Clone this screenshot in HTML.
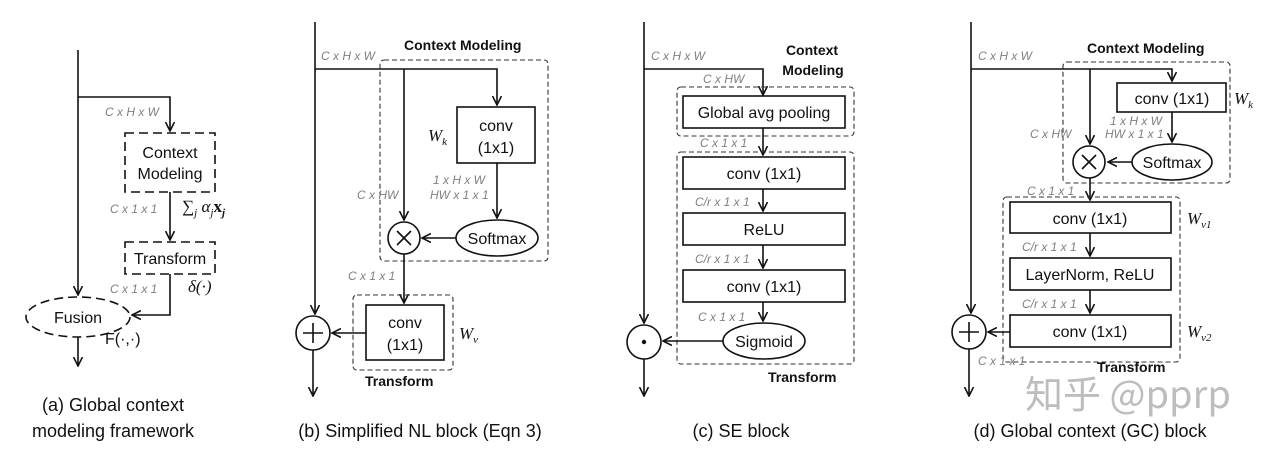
<!DOCTYPE html>
<html><head><meta charset="utf-8"><style>
html,body{margin:0;padding:0;background:#fff;}
svg{display:block;}
text{font-family:"Liberation Sans","Noto Sans CJK SC",sans-serif;}
.g{fill:#808080;font-size:12px;font-style:italic;}
.b{font-weight:bold;font-size:14px;fill:#111;}
.t{font-size:16px;fill:#111;}
.c{font-size:18px;fill:#111;}
.m{font-family:"Liberation Serif",serif;font-style:italic;font-size:17px;fill:#111;}
.l{stroke:#111;stroke-width:1.6;fill:none;}
.d{stroke:#333;stroke-width:1.1;fill:none;stroke-dasharray:5,3;}
.dd{stroke:#111;stroke-width:1.6;fill:none;stroke-dasharray:9,5;}
</style></head><body>
<svg width="1266" height="454" viewBox="0 0 1266 454" xmlns="http://www.w3.org/2000/svg">
<defs><marker id="a" markerWidth="10" markerHeight="10" refX="9" refY="5" orient="auto" markerUnits="userSpaceOnUse"><path d="M0,0.5 L9,5 L0,9.5" fill="none" stroke="#111" stroke-width="1.6"/></marker></defs>

<!-- (a) -->
<path class="l" d="M78,50 V295" marker-end="url(#a)"/>
<path class="l" d="M78,97 H170 V131" marker-end="url(#a)"/>
<rect class="dd" x="125" y="133" width="90" height="59"/>
<text class="t" x="170" y="158" text-anchor="middle">Context</text>
<text class="t" x="170" y="179" text-anchor="middle">Modeling</text>
<text class="g" x="105" y="116">C x H x W</text>
<text class="g" x="110" y="213">C x 1 x 1</text>
<text class="m" x="182" y="212">∑<tspan font-size="11" dy="4">j</tspan><tspan dy="-4"> α</tspan><tspan font-size="11" dy="4">j</tspan><tspan dy="-4" font-weight="bold" font-style="normal">x</tspan><tspan font-size="11" dy="4" font-weight="bold">j</tspan></text>
<path class="l" d="M170,192 V240" marker-end="url(#a)"/>
<rect class="dd" x="125" y="242" width="90" height="32"/>
<text class="t" x="170" y="264" text-anchor="middle">Transform</text>
<text class="g" x="110" y="293">C x 1 x 1</text>
<text class="m" x="188" y="292">δ(·)</text>
<path class="l" d="M170,274 V315 H132" marker-end="url(#a)"/>
<ellipse class="dd" cx="78" cy="317" rx="52" ry="20"/>
<text class="t" x="78" y="323" text-anchor="middle">Fusion</text>
<text class="t" x="105" y="344">F(·,·)</text>
<path class="l" d="M78,337 V366" marker-end="url(#a)"/>
<text class="c" x="113" y="411" text-anchor="middle">(a) Global context</text>
<text class="c" x="113" y="437" text-anchor="middle">modeling framework</text>

<!-- (b) -->
<path class="l" d="M315,22 V314" marker-end="url(#a)"/>
<path class="l" d="M315,69 H497 V105" marker-end="url(#a)"/>
<path class="l" d="M404,69 V220" marker-end="url(#a)"/>
<rect class="d" x="380" y="60" width="168" height="201" rx="4"/>
<text class="b" x="404" y="50">Context Modeling</text>
<text class="g" x="321" y="60">C x H x W</text>
<rect class="l" x="457" y="107" width="78" height="56"/>
<text class="t" x="496" y="131" text-anchor="middle">conv</text>
<text class="t" x="496" y="153" text-anchor="middle">(1x1)</text>
<text class="m" x="428" y="141">W<tspan font-size="11" dy="4">k</tspan></text>
<text class="g" x="433" y="184">1 x H x W</text>
<text class="g" x="430" y="199">HW x 1 x 1</text>
<text class="g" x="357" y="199">C x HW</text>
<path class="l" d="M497,163 V218" marker-end="url(#a)"/>
<ellipse class="l" cx="497" cy="238" rx="41" ry="18"/>
<text class="t" x="497" y="244" text-anchor="middle">Softmax</text>
<path class="l" d="M456,238 H422" marker-end="url(#a)"/>
<circle class="l" cx="404" cy="238" r="16"/>
<path class="l" d="M397,231 L411,245 M411,231 L397,245"/>
<path class="l" d="M404,254 V303" marker-end="url(#a)"/>
<text class="g" x="348" y="280">C x 1 x 1</text>
<rect class="d" x="353" y="295" width="100" height="75" rx="4"/>
<rect class="l" x="366" y="305" width="78" height="55"/>
<text class="t" x="405" y="328" text-anchor="middle">conv</text>
<text class="t" x="405" y="350" text-anchor="middle">(1x1)</text>
<text class="m" x="459" y="339">W<tspan font-size="11" dy="4">v</tspan></text>
<path class="l" d="M366,333 H332" marker-end="url(#a)"/>
<circle class="l" cx="313" cy="333" r="17"/>
<path class="l" d="M303,333 H323 M313,323 V343"/>
<text class="b" x="365" y="386">Transform</text>
<path class="l" d="M313,350 V396" marker-end="url(#a)"/>
<text class="c" x="420" y="437" text-anchor="middle">(b) Simplified NL block (Eqn 3)</text>

<!-- (c) -->
<path class="l" d="M644,22 V323" marker-end="url(#a)"/>
<path class="l" d="M644,69 H763 V95" marker-end="url(#a)"/>
<text class="g" x="651" y="60">C x H x W</text>
<text class="b" x="812" y="55" text-anchor="middle">Context</text>
<text class="b" x="813" y="75" text-anchor="middle">Modeling</text>
<text class="g" x="703" y="83">C x HW</text>
<rect class="d" x="677" y="87" width="177" height="49" rx="4"/>
<rect class="l" x="683" y="96" width="162" height="32"/>
<text class="t" x="764" y="118" text-anchor="middle">Global avg pooling</text>
<path class="l" d="M763,128 V155" marker-end="url(#a)"/>
<text class="g" x="700" y="147">C x 1 x 1</text>
<rect class="d" x="677" y="152" width="177" height="212" rx="4"/>
<rect class="l" x="683" y="157" width="162" height="32"/>
<text class="t" x="764" y="179" text-anchor="middle">conv (1x1)</text>
<path class="l" d="M763,189 V211" marker-end="url(#a)"/>
<text class="g" x="695" y="206">C/r x 1 x 1</text>
<rect class="l" x="683" y="213" width="162" height="32"/>
<text class="t" x="764" y="235" text-anchor="middle">ReLU</text>
<path class="l" d="M763,245 V268" marker-end="url(#a)"/>
<text class="g" x="695" y="263">C/r x 1 x 1</text>
<rect class="l" x="683" y="270" width="162" height="32"/>
<text class="t" x="764" y="292" text-anchor="middle">conv (1x1)</text>
<path class="l" d="M763,302 V321" marker-end="url(#a)"/>
<text class="g" x="698" y="321">C x 1 x 1</text>
<ellipse class="l" cx="764" cy="341" rx="41" ry="18"/>
<text class="t" x="764" y="347" text-anchor="middle">Sigmoid</text>
<path class="l" d="M723,341 H663" marker-end="url(#a)"/>
<circle class="l" cx="644" cy="342" r="17"/>
<circle cx="644" cy="342" r="2.2" fill="#111"/>
<text class="b" x="768" y="382">Transform</text>
<path class="l" d="M644,359 V396" marker-end="url(#a)"/>
<text class="c" x="741" y="437" text-anchor="middle">(c) SE block</text>

<!-- (d) -->
<path class="l" d="M971,22 V313" marker-end="url(#a)"/>
<path class="l" d="M971,69 H1172 V81" marker-end="url(#a)"/>
<path class="l" d="M1090,69 V144" marker-end="url(#a)"/>
<text class="g" x="978" y="60">C x H x W</text>
<text class="b" x="1087" y="53">Context Modeling</text>
<rect class="d" x="1063" y="62" width="167" height="121" rx="4"/>
<rect class="l" x="1117" y="83" width="109" height="29"/>
<text class="t" x="1172" y="104" text-anchor="middle">conv (1x1)</text>
<text class="m" x="1234" y="104">W<tspan font-size="11" dy="4">k</tspan></text>
<text class="g" x="1110" y="125">1 x H x W</text>
<text class="g" x="1105" y="138">HW x 1 x 1</text>
<text class="g" x="1030" y="138">C x HW</text>
<path class="l" d="M1172,112 V142" marker-end="url(#a)"/>
<ellipse class="l" cx="1172" cy="162" rx="40" ry="18"/>
<text class="t" x="1172" y="168" text-anchor="middle">Softmax</text>
<path class="l" d="M1132,162 H1108" marker-end="url(#a)"/>
<circle class="l" cx="1089" cy="162" r="16"/>
<path class="l" d="M1082,155 L1096,169 M1096,155 L1082,169"/>
<path class="l" d="M1090,178 V200" marker-end="url(#a)"/>
<text class="g" x="1027" y="195">C x 1 x 1</text>
<rect class="d" x="1003" y="197" width="177" height="165" rx="4"/>
<rect class="l" x="1010" y="202" width="161" height="31"/>
<text class="t" x="1090" y="224" text-anchor="middle">conv (1x1)</text>
<text class="m" x="1187" y="224">W<tspan font-size="11" dy="4">v1</tspan></text>
<path class="l" d="M1090,233 V256" marker-end="url(#a)"/>
<text class="g" x="1022" y="251">C/r x 1 x 1</text>
<rect class="l" x="1010" y="258" width="161" height="32"/>
<text class="t" x="1090" y="280" text-anchor="middle">LayerNorm, ReLU</text>
<path class="l" d="M1090,290 V313" marker-end="url(#a)"/>
<text class="g" x="1022" y="308">C/r x 1 x 1</text>
<rect class="l" x="1010" y="315" width="161" height="32"/>
<text class="t" x="1090" y="337" text-anchor="middle">conv (1x1)</text>
<text class="m" x="1187" y="337">W<tspan font-size="11" dy="4">v2</tspan></text>
<path class="l" d="M1010,332 H988" marker-end="url(#a)"/>
<circle class="l" cx="969" cy="332" r="17"/>
<path class="l" d="M959,332 H979 M969,322 V342"/>
<text class="g" x="978" y="365">C x 1 x 1</text>
<text class="b" x="1097" y="372">Transform</text>
<path class="l" d="M969,349 V396" marker-end="url(#a)"/>
<text x="1025" y="408" font-size="38" fill="#bdbdbd" style="font-family:'Noto Sans CJK SC','Liberation Sans',sans-serif;">知乎 @pprp</text>
<text class="c" x="1090" y="437" text-anchor="middle">(d) Global context (GC) block</text>
</svg>
</body></html>
